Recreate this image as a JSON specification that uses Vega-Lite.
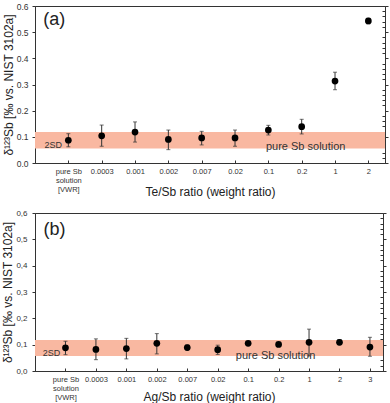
{
  "$schema": "https://vega.github.io/schema/vega-lite/v6.json",
  "padding": {"left": 1, "top": 1, "right": 5, "bottom": 2},
  "spacing": 10,
  "config": {
    "font": "Liberation Sans",
    "view": {"stroke": "#333", "strokeWidth": 1},
    "axis": {"labelColor": "#333", "titleColor": "#222", "labelFontSize": 8, "titleFontWeight": "normal", "domainColor": "#333", "tickColor": "#333", "grid": false, "labelOverlap": false}
  },
  "datasets": {
    "a": [
      {"cat": "pure Sb solution [VWR]", "v": 0.087, "lo": 0.062, "hi": 0.112},
      {"cat": "0.0003", "v": 0.104, "lo": 0.064, "hi": 0.145},
      {"cat": "0.001", "v": 0.118, "lo": 0.080, "hi": 0.157},
      {"cat": "0.002", "v": 0.090, "lo": 0.051, "hi": 0.126},
      {"cat": "0.007", "v": 0.096, "lo": 0.069, "hi": 0.121},
      {"cat": "0.02", "v": 0.096, "lo": 0.064, "hi": 0.126},
      {"cat": "0.1", "v": 0.126, "lo": 0.107, "hi": 0.144},
      {"cat": "0.2", "v": 0.139, "lo": 0.111, "hi": 0.167},
      {"cat": "1", "v": 0.313, "lo": 0.280, "hi": 0.347},
      {"cat": "2", "v": 0.543, "lo": 0.532, "hi": 0.553}
    ],
    "b": [
      {"cat": "pure Sb solution [VWR]", "v": 0.088, "lo": 0.062, "hi": 0.113},
      {"cat": "0.0003", "v": 0.082, "lo": 0.043, "hi": 0.122},
      {"cat": "0.001", "v": 0.085, "lo": 0.046, "hi": 0.124},
      {"cat": "0.002", "v": 0.105, "lo": 0.065, "hi": 0.142},
      {"cat": "0.007", "v": 0.089, "lo": 0.080, "hi": 0.099},
      {"cat": "0.02", "v": 0.081, "lo": 0.063, "hi": 0.098},
      {"cat": "0.1", "v": 0.105, "lo": 0.101, "hi": 0.109},
      {"cat": "0.2", "v": 0.101, "lo": 0.097, "hi": 0.105},
      {"cat": "1", "v": 0.109, "lo": 0.057, "hi": 0.159},
      {"cat": "2", "v": 0.109, "lo": 0.100, "hi": 0.119},
      {"cat": "3", "v": 0.091, "lo": 0.056, "hi": 0.128}
    ]
  },
  "vconcat": [
    {
      "width": 350,
      "height": 157,
      "resolve": {"axis": {"y": "independent"}},
      "layer": [
        {
          "data": {"values": [{"lo": 0.055, "hi": 0.118}]},
          "mark": {"type": "rect", "color": "#F9B8A1"},
          "encoding": {
            "y": {"field": "lo", "type": "quantitative", "scale": {"domain": [0, 0.6]},
              "axis": {"orient": "left", "title": "δ¹²³Sb [‰ vs. NIST 3102a]", "titleFontSize": 12, "titlePadding": 1, "labelFontSize": 8.5, "labelOverlap": false, "labelFlush": false,
                "values": [0, 0.1, 0.2, 0.3, 0.4, 0.5, 0.6], "format": ".1f",
                "tickSize": 3, "labelPadding": 4}},
            "y2": {"field": "hi"}
          }
        },
        {
          "data": {"name": "a"},
          "mark": {"type": "rule", "color": "#333", "strokeWidth": 1},
          "encoding": {
            "x": {"field": "cat", "type": "ordinal",
              "scale": {"type": "point", "domain": ["pure Sb solution [VWR]", "0.0003", "0.001", "0.002", "0.007", "0.02", "0.1", "0.2", "1", "2"], "padding": 0.75, "align": 0.667},
              "axis": {"title": "Te/Sb ratio (weight ratio)", "titleFontSize": 12, "titleY": 23, "labelAngle": 0, "labelFontSize": 7.5, "labelPadding": 7, "labelLineHeight": 9, "tickSize": -3, "labelExpr": "datum.label == 'pure Sb solution [VWR]' ? ['pure Sb','solution','[VWR]'] : datum.label"}},
            "y": {"field": "lo", "type": "quantitative", "axis": null}, "y2": {"field": "hi"}}
        },
        {
          "data": {"name": "a"},
          "mark": {"type": "tick", "color": "#333", "size": 4, "thickness": 1},
          "encoding": {"x": {"field": "cat", "type": "ordinal"}, "y": {"field": "lo", "type": "quantitative", "axis": null}}
        },
        {
          "data": {"name": "a"},
          "mark": {"type": "tick", "color": "#333", "size": 4, "thickness": 1},
          "encoding": {"x": {"field": "cat", "type": "ordinal"}, "y": {"field": "hi", "type": "quantitative", "axis": null}}
        },
        {
          "data": {"name": "a"},
          "mark": {"type": "circle", "color": "#000", "size": 45, "opacity": 1},
          "encoding": {"x": {"field": "cat", "type": "ordinal"}, "y": {"field": "v", "type": "quantitative", "axis": null}}
        },
        {
          "data": {"values": [{"cat": "pure Sb solution [VWR]", "v": 0.069, "t": "2SD"}]},
          "mark": {"type": "text", "align": "center", "baseline": "middle", "dx": -15, "fontSize": 9, "color": "#333"},
          "encoding": {"x": {"field": "cat", "type": "ordinal"}, "y": {"field": "v", "type": "quantitative", "axis": null}, "text": {"field": "t"}}
        },
        {
          "data": {"values": [{"cat": "0.2", "v": 0.063, "t": "pure Sb solution"}]},
          "mark": {"type": "text", "align": "center", "baseline": "middle", "dx": 4, "fontSize": 11, "color": "#333"},
          "encoding": {"x": {"field": "cat", "type": "ordinal"}, "y": {"field": "v", "type": "quantitative", "axis": null}, "text": {"field": "t"}}
        },
        {
          "data": {"values": [{"cat": "pure Sb solution [VWR]", "v": 0.546, "t": "(a)"}]},
          "mark": {"type": "text", "align": "center", "baseline": "middle", "dx": -14, "fontSize": 18, "color": "#222"},
          "encoding": {"x": {"field": "cat", "type": "ordinal"}, "y": {"field": "v", "type": "quantitative", "axis": null}, "text": {"field": "t"}}
        },
        {
          "data": {"name": "a"},
          "mark": {"type": "point", "opacity": 0},
          "encoding": {"x": {"field": "cat", "type": "ordinal"}, "y": {"field": "v", "type": "quantitative",
            "axis": {"orient": "right", "title": null, "labels": false,
              "values": [0,0.02,0.04,0.06,0.08,0.1,0.12,0.14,0.16,0.18,0.2,0.22,0.24,0.26,0.28,0.3,0.32,0.34,0.36,0.38,0.4,0.42,0.44,0.46,0.48,0.5,0.52,0.54,0.56,0.58,0.6],
              "tickSize": {"condition": {"test": "abs(datum.value*10 - round(datum.value*10)) < 0.001", "value": 3}, "value": -3}}}}
        }
      ]
    },
    {
      "width": 348,
      "height": 158,
      "resolve": {"axis": {"y": "independent"}},
      "layer": [
        {
          "data": {"values": [{"lo": 0.057, "hi": 0.118}]},
          "mark": {"type": "rect", "color": "#F9B8A1"},
          "encoding": {
            "y": {"field": "lo", "type": "quantitative", "scale": {"domain": [0, 0.6]},
              "axis": {"orient": "left", "title": "δ¹²³Sb [‰ vs. NIST 3102a]", "titleFontSize": 12, "titlePadding": 1, "labelFontSize": 8, "labelOverlap": false, "labelFlush": false,
                "values": [0, 0.1, 0.2, 0.3, 0.4, 0.5, 0.6],
                "labelExpr": "'0,' + round(datum.value*10)",
                "tickSize": 3, "labelPadding": 5}},
            "y2": {"field": "hi"}
          }
        },
        {
          "data": {"name": "b"},
          "mark": {"type": "rule", "color": "#333", "strokeWidth": 1},
          "encoding": {
            "x": {"field": "cat", "type": "ordinal",
              "scale": {"type": "point", "domain": ["pure Sb solution [VWR]", "0.0003", "0.001", "0.002", "0.007", "0.02", "0.1", "0.2", "1", "2", "3"], "padding": 0.715, "align": 0.7},
              "axis": {"title": "Ag/Sb ratio (weight ratio)", "titleFontSize": 12, "titleY": 20, "labelAngle": 0, "labelFontSize": 7.5, "labelPadding": 7, "labelLineHeight": 9, "tickSize": -3, "labelExpr": "datum.label == 'pure Sb solution [VWR]' ? ['pure Sb','solution','[VWR]'] : datum.label"}},
            "y": {"field": "lo", "type": "quantitative", "axis": null}, "y2": {"field": "hi"}}
        },
        {
          "data": {"name": "b"},
          "mark": {"type": "tick", "color": "#333", "size": 4, "thickness": 1},
          "encoding": {"x": {"field": "cat", "type": "ordinal"}, "y": {"field": "lo", "type": "quantitative", "axis": null}}
        },
        {
          "data": {"name": "b"},
          "mark": {"type": "tick", "color": "#333", "size": 4, "thickness": 1},
          "encoding": {"x": {"field": "cat", "type": "ordinal"}, "y": {"field": "hi", "type": "quantitative", "axis": null}}
        },
        {
          "data": {"name": "b"},
          "mark": {"type": "circle", "color": "#000", "size": 45, "opacity": 1},
          "encoding": {"x": {"field": "cat", "type": "ordinal"}, "y": {"field": "v", "type": "quantitative", "axis": null}}
        },
        {
          "data": {"values": [{"cat": "pure Sb solution [VWR]", "v": 0.068, "t": "2SD"}]},
          "mark": {"type": "text", "align": "center", "baseline": "middle", "dx": -14, "fontSize": 9, "color": "#333"},
          "encoding": {"x": {"field": "cat", "type": "ordinal"}, "y": {"field": "v", "type": "quantitative", "axis": null}, "text": {"field": "t"}}
        },
        {
          "data": {"values": [{"cat": "0.2", "v": 0.057, "t": "pure Sb solution"}]},
          "mark": {"type": "text", "align": "center", "baseline": "middle", "dx": -3, "fontSize": 11, "color": "#333"},
          "encoding": {"x": {"field": "cat", "type": "ordinal"}, "y": {"field": "v", "type": "quantitative", "axis": null}, "text": {"field": "t"}}
        },
        {
          "data": {"values": [{"cat": "pure Sb solution [VWR]", "v": 0.535, "t": "(b)"}]},
          "mark": {"type": "text", "align": "center", "baseline": "middle", "dx": -11, "fontSize": 18, "color": "#222"},
          "encoding": {"x": {"field": "cat", "type": "ordinal"}, "y": {"field": "v", "type": "quantitative", "axis": null}, "text": {"field": "t"}}
        },
        {
          "data": {"name": "b"},
          "mark": {"type": "point", "opacity": 0},
          "encoding": {"x": {"field": "cat", "type": "ordinal"}, "y": {"field": "v", "type": "quantitative",
            "axis": {"orient": "right", "title": null, "labels": false,
              "values": [0,0.02,0.04,0.06,0.08,0.1,0.12,0.14,0.16,0.18,0.2,0.22,0.24,0.26,0.28,0.3,0.32,0.34,0.36,0.38,0.4,0.42,0.44,0.46,0.48,0.5,0.52,0.54,0.56,0.58,0.6],
              "tickSize": {"condition": {"test": "abs(datum.value*10 - round(datum.value*10)) < 0.001", "value": 3}, "value": -3}}}}
        }
      ]
    }
  ]
}
